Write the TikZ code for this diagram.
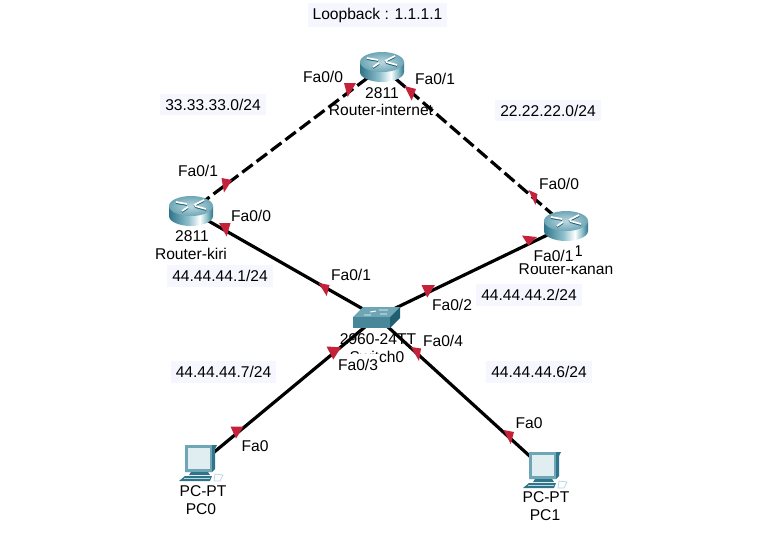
\documentclass[tikz,border=0pt]{standalone}
\usepackage{fontspec}
\setmainfont{Liberation Sans}
\definecolor{netbg}{HTML}{F6F6FF}
\definecolor{lred}{HTML}{C4213A}
\definecolor{teal1}{HTML}{2F7488}
\definecolor{teal2}{HTML}{8FC0CC}
\definecolor{teal3}{HTML}{BBD8E0}
\definecolor{teal4}{HTML}{6FA6B6}
\definecolor{teal5}{HTML}{1F5F72}
\pgfdeclarehorizontalshading{rside}{100bp}{color(0bp)=(teal1); color(25bp)=(teal1); color(47bp)=(teal2); color(60bp)=(white); color(68bp)=(teal2); color(75bp)=(teal1); color(100bp)=(teal1)}
\tikzset{
 x=1pt,y=-1pt,
 every node/.style={font=\fontsize{15.6}{16}\selectfont,inner sep=0pt,text=black},
 dev/.style={minimum width=10pt,minimum height=10pt},
 net/.style={fill=netbg,inner xsep=5pt,inner ysep=5pt},
 port/.style={fill=white,inner xsep=1pt,inner ysep=1.5pt},
 devlabel/.style={},
 link/.style={line width=3.2pt,black},
 wan/.style={link,dash pattern=on 13pt off 5pt},
 lamp/.style={fill=lred},
 arw/.style={line width=1.7pt,white},
 arwd/.style={line width=1.7pt,teal5},
 pics/router/.style={code={
   \shade[shading=rside] (-22,-5) -- (-22,5) arc[x radius=22,y radius=10,start angle=180,end angle=0] -- (22,-5) -- cycle;
   \shade[inner color=teal3,outer color=teal4] (0,-5) ellipse[x radius=22,y radius=10];
   \draw[arwd] (-15,-8)--(-4,-6) (13,-10)--(3,-5) (15,-1)--(4,-4) (-9,1)--(-3,-3);
   \draw[arw] (-15,-9)--(-4,-7) (13,-11)--(3,-6) (15,-2)--(4,-5) (-9,0)--(-3,-4);
 }},
 pics/swt/.style={code={
   \fill[teal4] (-14,-10)--(23,-10)--(13,0)--(-24,0)--cycle;
   \fill[teal1!75!teal2] (-24,0)--(13,0)--(13,11)--(-24,11)--cycle;
   \fill[teal5] (13,0)--(23,-10)--(23,1)--(13,11)--cycle;
   \draw[white,line width=.9pt] (-7,-5)--(-1,-6) (2,-7)--(11,-7) (-13,-2)--(-6,-2) (3,-3)--(10,-3);
 }},
 pics/pc/.style={code={
   \fill[teal1] (-16,-18)--(16,-18)--(14,-14)--(14,6)--(11,9)--(-16,9)--cycle;
   \fill[teal4] (-16,-18)--(11,-18)--(11,9)--(-16,9)--cycle;
   \fill[white!72!teal2] (-13,-15) rectangle (9,6);
   \fill[teal1] (-10,9)--(7,9)--(9,12)--(-12,12)--cycle;
   \fill[teal1] (-22,18)--(-16,13)--(11,13)--(9,18)--cycle;
   \draw[teal3,line width=.7pt] (-17,15)--(9,15);
   \draw[teal3,line width=.8pt] (14,11)--(22,12)--(19,18)--(13,18)--cycle;
 }},
}
\begin{document}
\begin{tikzpicture}
\useasboundingbox (0,0) rectangle (784,552);
% device anchors
\node[dev] (rint) at (382,67) {};
\node[dev] (rkiri) at (191,211) {};
\node[dev] (rkan) at (566,226) {};
\node[dev] (sw) at (377,317) {};
\node[dev] (pc0) at (201,463) {};
\node[dev] (pc1) at (545,470) {};
% links
\draw[wan] (rint.center) -- (rkiri.center);
\draw[wan] (rint.center) -- (rkan.center);
\draw[link] (rkiri.center) -- (sw.center);
\draw[link] (rkan.center) -- (sw.center);
\draw[link] (sw.center) -- (pc0.center);
\draw[link] (sw.center) -- (pc1.center);
% link lights
\fill[lamp] (344,83)--(356,83)--(347.7,97)--cycle;
\fill[lamp] (404.5,86)--(416,89)--(411.7,100.5)--cycle;
\fill[lamp] (221.5,178)--(232,180)--(224,192.5)--cycle;
\fill[lamp] (219,223)--(230.5,223)--(226.7,236.5)--cycle;
\fill[lamp] (528.5,190)--(537.5,194)--(535.5,205)--cycle;
\fill[lamp] (522,235.5)--(537,237)--(528.3,245.5)--cycle;
\fill[lamp] (318.5,283)--(329.5,285)--(326.7,296)--cycle;
\fill[lamp] (421.5,285)--(435,285)--(427.3,297.5)--cycle;
\fill[lamp] (326.5,346.5)--(341,347.3)--(333.3,359.5)--cycle;
\fill[lamp] (411,347)--(421,348.5)--(419,361)--cycle;
\fill[lamp] (230.5,426.5)--(243.5,426.5)--(236,438.5)--cycle;
\fill[lamp] (503.5,430)--(514,432)--(510.7,444)--cycle;
% icons
\pic at (382,67) {router};
\pic at (191,211) {router};
\pic at (566,226) {router};
\pic at (377,317) {swt};
\pic at (201,463) {pc};
\pic at (545,470) {pc};
% device labels
\node[devlabel] (t1) at (382,93) {2811};
\node[devlabel] (t2) at (381,110) {Router-internet};
\node[devlabel] (t3) at (192,236) {2811};
\node[devlabel] (t4) at (191,254) {Router-kiri};
\node[devlabel] (t5) at (566,251) {2811};
\node[devlabel] (t6) at (566,269) {Router-kanan};
\node[devlabel] (t7) at (377,357) {Switch0};
\node[devlabel] (t8) at (378,339) {2960-24TT};
\node[devlabel] (t9) at (203,491) {PC-PT};
\node[devlabel] (t10) at (201,509) {PC0};
\node[devlabel] (t11) at (546,497) {PC-PT};
\node[devlabel] (t12) at (545,515) {PC1};
% port labels
\node[port] (p1) at (323,77) {Fa0/0};
\node[port] (p2) at (435,79) {Fa0/1};
\node[port] (p3) at (198,171) {Fa0/1};
\node[port] (p4) at (251,216) {Fa0/0};
\node[port] (p5) at (559,184) {Fa0/0};
\node[port,inner xsep=3pt,minimum height=21pt] (p6) at (553.5,255.5) {Fa0/1};
\node[port] (p7) at (351,275) {Fa0/1};
\node[port] (p8) at (452,305) {Fa0/2};
\node[port,minimum height=22pt] (p9) at (358,365) {Fa0/3};
\node[port] (p10) at (443,341) {Fa0/4};
\node[port] (p11) at (255,446) {Fa0};
\node[port] (p12) at (529,423) {Fa0};
% notes
\node[net] (n0) at (377.5,15) {Loopback : 1.1.1.1};
\node[net] (n1) at (213,104.5) {33.33.33.0/24};
\node[net] (n2) at (548,110.5) {22.22.22.0/24};
\node[net] (n3) at (220,276) {44.44.44.1/24};
\node[net] (n4) at (529,295) {44.44.44.2/24};
\node[net] (n5) at (223.5,372) {44.44.44.7/24};
\node[net] (n6) at (539,372) {44.44.44.6/24};
\end{tikzpicture}
\end{document}
